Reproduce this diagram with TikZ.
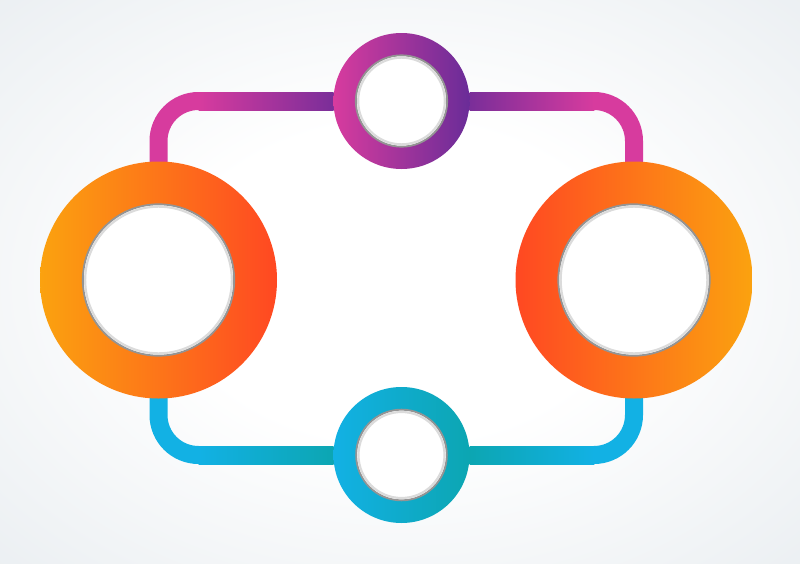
\documentclass[tikz,border=0pt]{standalone}
\usepackage[HTML]{xcolor}
\usepackage{tikz}
\usetikzlibrary{positioning, backgrounds}

\definecolor{bgedge}{HTML}{EBEFF2}
\definecolor{bgcorner}{HTML}{D9E1E7}
\definecolor{amber}{HTML}{FBA20F}
\definecolor{flame}{HTML}{FF4822}
\definecolor{magent}{HTML}{D73B9E}
\definecolor{violet}{HTML}{6A2C98}
\definecolor{skyc}{HTML}{12B1E4}
\definecolor{tealc}{HTML}{0CA6B2}

\pgfdeclareradialshading{bgglow}{\pgfpoint{0bp}{0bp}}{color(0bp)=(white); color(14bp)=(white); color(36bp)=(bgedge); color(52bp)=(bgcorner); color(72bp)=(bgcorner)}

\tikzset{
  ring/.style={circle, inner sep=0pt, outer sep=0pt},
  hole/.style={circle, fill=white, draw=black!42, line width=1.4pt, inner sep=0pt},
  rim/.style={circle, draw=black!14, line width=1.6pt, inner sep=0pt},
  band/.style={line width=13.5pt, rounded corners=30pt},
}

\begin{document}
\begin{tikzpicture}[x=0.75pt, y=-0.75pt]
\useasboundingbox (0,0) rectangle (800,564);

% rings
\node[ring, minimum size=177.75pt, left color=amber, right color=flame] (lf) at (158.5,280) {};
\node[ring, minimum size=177.75pt, left color=flame, right color=amber] (rt) at (634,280) {};
\node[ring, minimum size=102pt, left color=magent, right color=violet] (tp) at (401.5,101) {};
\node[ring, minimum size=102pt, left color=skyc, right color=tealc] (bt) at (401.5,455) {};

% holes
\node[hole, minimum size=113.5pt] (lfh) at (lf) {};
\node[rim, minimum size=110pt] at (lf) {};
\node[hole, minimum size=113.5pt] (rth) at (rt) {};
\node[rim, minimum size=110pt] at (rt) {};
\node[hole, minimum size=68.5pt] (tph) at (tp) {};
\node[rim, minimum size=65pt] at (tp) {};
\node[hole, minimum size=68pt] (bth) at (bt) {};
\node[rim, minimum size=64.5pt] at (bt) {};

\coordinate (tlc) at (200,101);
\coordinate (trc) at (593,101);
\coordinate (blc) at (200,455);
\coordinate (brc) at (593,455);

\begin{pgfonlayer}{background}
\shade[shading=bgglow] (0,0) rectangle (800,564);

% upper links
\shade[left color=magent, right color=violet!85!magent] ([yshift=6.75pt,xshift=-1pt]tlc) rectangle ([yshift=-6.75pt]tp.west);
\shade[left color=violet!85!magent, right color=magent] ([yshift=6.75pt]tp.east) rectangle ([yshift=-6.75pt,xshift=1pt]trc);
\draw[band, magent] (lf.center) |- (tlc);
\draw[band, magent] (trc) -| (rt.center);

% lower links
\shade[left color=skyc, right color=tealc] ([yshift=6.75pt,xshift=-1pt]blc) rectangle ([yshift=-6.75pt]bt.west);
\shade[left color=tealc, right color=skyc] ([yshift=6.75pt]bt.east) rectangle ([yshift=-6.75pt,xshift=1pt]brc);
\draw[band, skyc] (lf.center) |- (blc);
\draw[band, skyc] (brc) -| (rt.center);
\end{pgfonlayer}
\end{tikzpicture}
\end{document}
